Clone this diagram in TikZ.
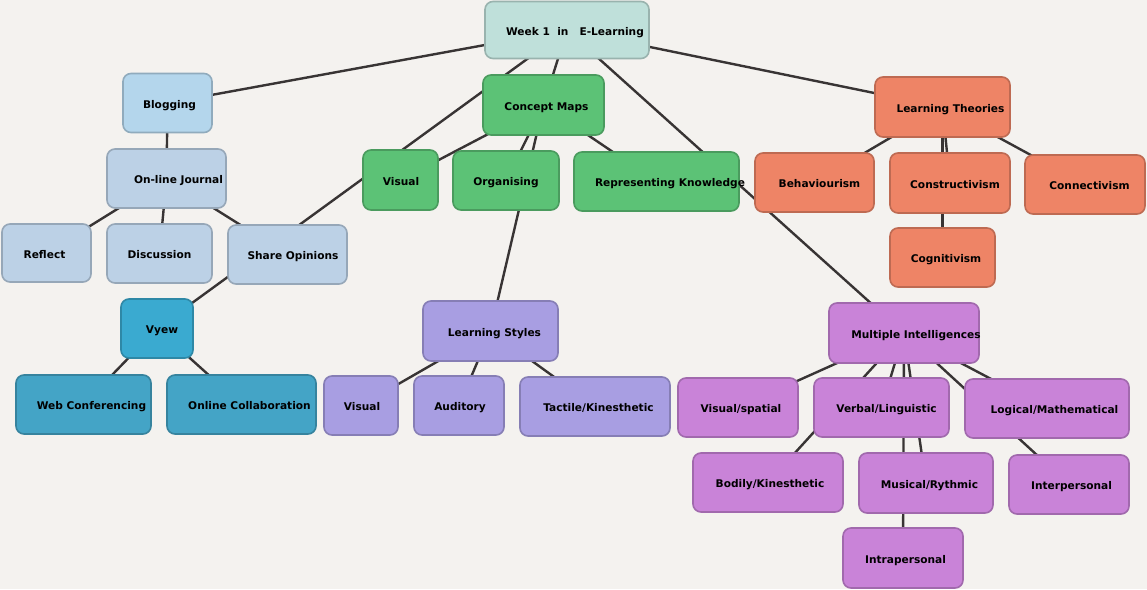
\documentclass[tikz,border=0pt]{standalone}
\usepackage{fontspec}
\setmainfont{DejaVu Sans}
\definecolor{paper}{HTML}{F4F2EF}
\definecolor{ink}{HTML}{383434}
\definecolor{cweek}{HTML}{BFE0DA}
\definecolor{cblog}{HTML}{B4D6EC}
\definecolor{cjour}{HTML}{BCD1E6}
\definecolor{cvyew}{HTML}{3AAAD0}
\definecolor{cteal}{HTML}{44A4C6}
\definecolor{cgreen}{HTML}{5CC276}
\definecolor{corange}{HTML}{EE8466}
\definecolor{cpurple}{HTML}{A89EE2}
\definecolor{cmag}{HTML}{C983D8}
\pgfdeclarelayer{paperlayer}
\pgfdeclarelayer{edgelayer}
\pgfsetlayers{paperlayer,edgelayer,main}
\tikzset{
  boxst/.style={rounded corners=8pt, line width=1.6pt, inner sep=0pt},
  lbl/.style={font=\fontsize{10.6}{12}\selectfont\bfseries, text=black, inner sep=0pt, text height=7.8pt, text depth=0pt},
  edge/.style={draw=ink, line width=2.4pt}
}
\newcommand\mkbox[8]{%
  \node[boxst, fill=#6, draw=#6!80!black, minimum width=#4pt, minimum height=#5pt] (#1) at (#2,#3) {};
  \node[lbl] (#1-t) at ([xshift=#7pt, yshift=-1.5pt]#1.center) {#8};}
\begin{document}
\begin{tikzpicture}[x=1pt,y=-1pt]
\begin{pgfonlayer}{paperlayer}
\fill[paper] (0,0) rectangle (1147,589);
\end{pgfonlayer}
\useasboundingbox (0,0) rectangle (1147,589);
% top
\mkbox{week}{567}{30}{164}{57}{cweek}{8}{Week 1\ \ in\ \ \ E-Learning}
% blogging group
\mkbox{blog}{167.5}{103}{89}{59}{cblog}{2}{Blogging}
\mkbox{jour}{166.5}{178.5}{119}{59}{cjour}{12}{On-line Journal}
\mkbox{refl}{46.5}{253}{89}{58}{cjour}{-2}{Reflect}
\mkbox{disc}{159.5}{253.5}{105}{59}{cjour}{0}{Discussion}
\mkbox{share}{287.5}{254.5}{119}{59}{cjour}{5.5}{Share Opinions}
\mkbox{vyew}{157}{328.5}{72}{59}{cvyew}{5}{Vyew}
\mkbox{web}{83.5}{404.5}{135}{59}{cteal}{8}{Web Conferencing}
\mkbox{collab}{241.5}{404.5}{149}{59}{cteal}{8}{Online Collaboration}
% concept maps
\mkbox{cm}{543.5}{105}{121}{60}{cgreen}{3}{Concept Maps}
\mkbox{visg}{400.5}{180}{75}{60}{cgreen}{0.5}{Visual}
\mkbox{org}{506}{180.5}{106}{59}{cgreen}{0}{Organising}
\mkbox{rk}{656.5}{181.5}{165}{59}{cgreen}{13.5}{Representing Knowledge}
% learning styles
\mkbox{ls}{490.5}{331}{135}{60}{cpurple}{4}{Learning Styles}
\mkbox{visp}{361}{405.5}{74}{59}{cpurple}{1}{Visual}
\mkbox{aud}{459}{405.5}{90}{59}{cpurple}{1}{Auditory}
\mkbox{tact}{595}{406.5}{150}{59}{cpurple}{3.5}{Tactile/Kinesthetic}
% learning theories
\mkbox{lt}{942.5}{107}{135}{60}{corange}{8}{Learning Theories}
\mkbox{beh}{814.5}{182.5}{119}{59}{corange}{5}{Behaviourism}
\mkbox{cons}{950}{183}{120}{60}{corange}{5}{Constructivism}
\mkbox{conn}{1085}{184.5}{120}{59}{corange}{4.5}{Connectivism}
\mkbox{cog}{942.5}{257.5}{105}{59}{corange}{3.5}{Cognitivism}
% multiple intelligences
\mkbox{mi}{904}{333}{150}{60}{cmag}{12}{Multiple Intelligences}
\mkbox{vissp}{738}{407.5}{120}{59}{cmag}{3}{Visual/spatial}
\mkbox{verb}{881.5}{407.5}{135}{59}{cmag}{5}{Verbal/Linguistic}
\mkbox{logi}{1047}{408.5}{164}{59}{cmag}{7.5}{Logical/Mathematical}
\mkbox{bod}{768}{482.5}{150}{59}{cmag}{2}{Bodily/Kinesthetic}
\mkbox{mus}{926}{483}{134}{60}{cmag}{3.5}{Musical/Rythmic}
\mkbox{inter}{1069}{484.5}{120}{59}{cmag}{2.5}{Interpersonal}
\mkbox{intra}{903}{558}{120}{60}{cmag}{2.5}{Intrapersonal}
% connectors
\begin{pgfonlayer}{edgelayer}
\draw[edge] (week.center) -- (blog.center);
\draw[edge] (week.center) -- (lt.center);
\draw[edge] (week.center) -- (cm.center);
\draw[edge] (week.center) -- (vyew.center);
\draw[edge] (week.center) -- (mi.center);
\draw[edge] (blog.center) -- (jour.center);
\draw[edge] (jour.center) -- (refl.center);
\draw[edge] (jour.center) -- (disc.center);
\draw[edge] (jour.center) -- (share.center);
\draw[edge] (vyew.center) -- (web.center);
\draw[edge] (vyew.center) -- (collab.center);
\draw[edge] (cm.center) -- (visg.center);
\draw[edge] (cm.center) -- (org.center);
\draw[edge] (cm.center) -- (ls.center);
\draw[edge] (cm.center) -- (rk.center);
\draw[edge] (ls.center) -- (visp.center);
\draw[edge] (ls.center) -- (aud.center);
\draw[edge] (ls.center) -- (tact.center);
\draw[edge] (lt.center) -- (beh.center);
\draw[edge] (lt.center) -- (cons.center);
\draw[edge] (lt.center) -- (cog.center);
\draw[edge] (lt.center) -- (conn.center);
\draw[edge] (mi.center) -- (vissp.center);
\draw[edge] (mi.center) -- (verb.center);
\draw[edge] (mi.center) -- (logi.center);
\draw[edge] (mi.center) -- (bod.center);
\draw[edge] (mi.center) -- (mus.center);
\draw[edge] (mi.center) -- (inter.center);
\draw[edge] (mi.center) -- (intra.center);
\end{pgfonlayer}
\end{tikzpicture}
\end{document}
